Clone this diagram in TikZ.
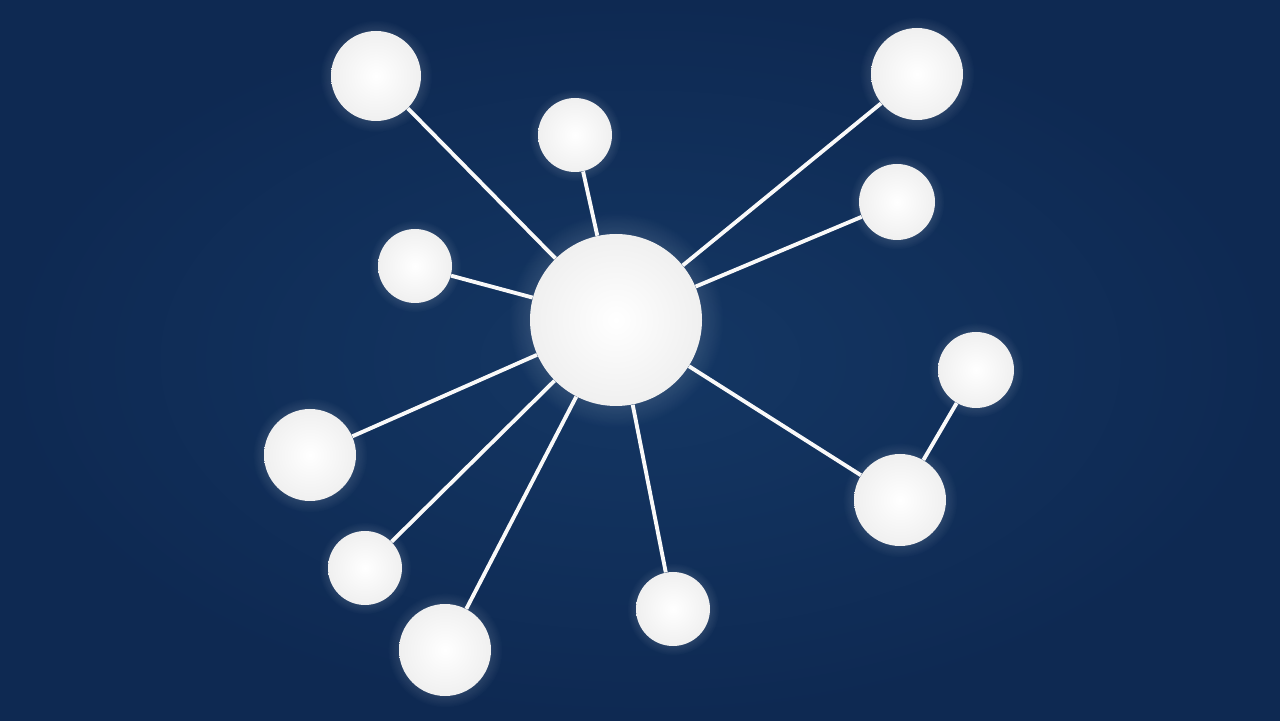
\documentclass[tikz,border=0pt]{standalone}
\usetikzlibrary{fadings}

\definecolor{bgout}{RGB}{14,41,82}
\definecolor{bgin}{RGB}{20,55,100}

\tikzfading[name=glowfade, inner color=transparent!50, outer color=transparent!100]

\tikzset{
  ball/.style={circle, inner sep=0pt, inner color=white, outer color=gray!12},
  halo/.style={fill=white, path fading=glowfade},
  link/.style={draw=gray!5, line width=2.2pt}
}

\begin{document}
\begin{tikzpicture}[x=1cm,y=1cm]
      \useasboundingbox (0,0) rectangle (25.6,14.4);
      \shade[inner color=bgin, outer color=bgout] (0,0) rectangle (25.6,14.4);
      % glow behind the spheres
      \foreach \x/\y/\r in {12.32/8.0/1.72, 7.52/12.88/0.9, 11.5/11.7/0.74, 18.34/12.92/0.92,
                            17.94/10.36/0.76, 8.3/9.08/0.74, 19.52/7.0/0.76, 18.0/4.4/0.92,
                            6.2/5.3/0.92, 7.3/3.04/0.74, 8.9/1.4/0.92, 13.46/2.22/0.74}
        \fill[halo] (\x,\y) circle ({\r*1.25});
      \draw
        (12.32,8.0) node[ball, minimum size=3.44cm] (0){}
        (7.52,12.88) node[ball, minimum size=1.8cm] (1){}
        (11.5,11.7) node[ball, minimum size=1.48cm] (2){}
        (18.34,12.92) node[ball, minimum size=1.84cm] (3){}
        (17.94,10.36) node[ball, minimum size=1.52cm] (4){}
        (8.3,9.08) node[ball, minimum size=1.48cm] (5){}
        (19.52,7.0) node[ball, minimum size=1.52cm] (6){}
        (18.0,4.4) node[ball, minimum size=1.84cm] (7){}
        (6.2,5.3) node[ball, minimum size=1.84cm] (8){}
        (7.3,3.04) node[ball, minimum size=1.48cm] (9){}
        (8.9,1.4) node[ball, minimum size=1.84cm] (10){}
        (13.46,2.22) node[ball, minimum size=1.48cm] (11){};
      \begin{scope}[link]
        \draw (0) to (1);
        \draw (0) to (2);
        \draw (0) to (3);
        \draw (0) to (4);
        \draw (0) to (5);
        \draw (0) to (7);
        \draw (0) to (8);
        \draw (0) to (9);
        \draw (0) to (10);
        \draw (0) to (11);
        \draw (6) to (7);
      \end{scope}
    \end{tikzpicture}
\end{document}
